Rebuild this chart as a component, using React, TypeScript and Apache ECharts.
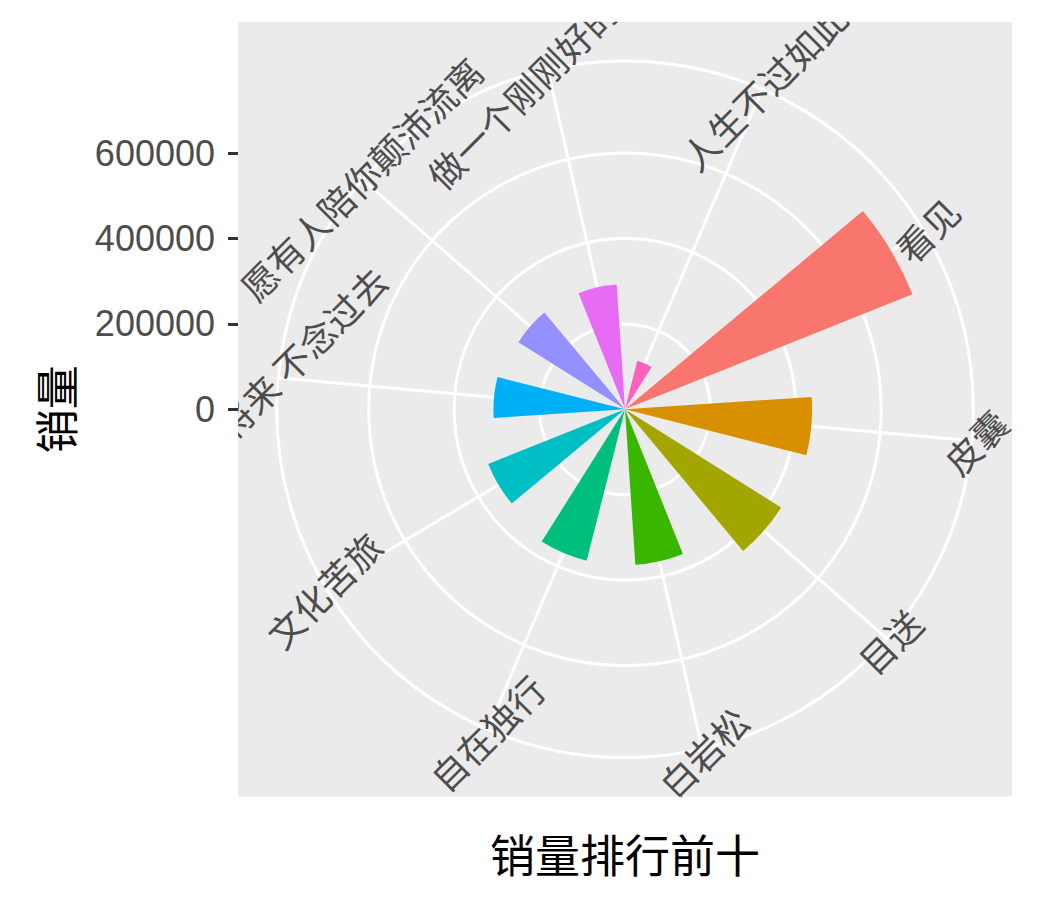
import { useEffect, useRef } from 'react';
import * as echarts from 'echarts';

// top ten books by sales, in the order they go round the circle (clockwise from the top)
const books = [
  '人生不过如此',
  '看见',
  '皮囊',
  '目送',
  '白岩松',
  '自在独行',
  '文化苦旅',
  '不畏将来 不念过去',
  '愿有人陪你颠沛流离',
  '做一个刚刚好的女子',
];
const sales = [117000, 725000, 438000, 432000, 365000, 366000, 345000, 308000, 295000, 293000];
const barColors = [
  '#FF62BC', '#F8766D', '#D89000', '#A3A500', '#39B600',
  '#00BF7D', '#00BFC4', '#00B0F6', '#9590FF', '#E76BF3',
];
const yTicks = [0, 200000, 400000, 600000];

// panel geometry (ggplot-like square panel)
const PANEL = { x: 238, y: 21.7, w: 774, h: 775 };
const CX = PANEL.x + PANEL.w / 2;
const CY = 409.3;
const BAR_W = 0.5;
const TEXT_GREY = '#4D4D4D';
const CJK = '"Noto Sans CJK SC", sans-serif';

export default function App() {
  const ref = useRef<HTMLDivElement | null>(null);

  useEffect(() => {
    document.body.style.margin = '0';
    if (!ref.current) return;
    const chart = echarts.init(ref.current, null, { renderer: 'svg' });

    const maxVal = Math.max(...sales);
    const rMax = maxVal * 1.125; // outer ring at 0.45 of panel, bars reach 0.4
    const outerPx = PANEL.w * 0.45;
    const pxPer = (PANEL.w * 0.4) / maxVal;
    const yTop = yTicks[yTicks.length - 1];
    // ring colours per radius tick: 0, 200k, 400k, 600k shown, the rest hidden
    const ringColors = ['#fff', '#fff', '#fff', '#fff', 'rgba(0,0,0,0)', 'rgba(0,0,0,0)'];

    chart.setOption({
      animation: false,
      polar: { center: [CX, CY], radius: outerPx },
      angleAxis: {
        type: 'value',
        min: 0,
        max: books.length,
        interval: 1,
        startAngle: 90 - 23.2,
        clockwise: true,
        axisLine: { show: true, lineStyle: { color: '#fff', width: 3 } },
        axisTick: { show: false },
        axisLabel: { show: false },
        splitLine: { show: true, lineStyle: { color: '#fff', width: 3 } },
      },
      radiusAxis: {
        type: 'value',
        min: 0,
        max: rMax,
        interval: 200000,
        axisLine: { show: false },
        axisTick: { show: false },
        axisLabel: { show: false },
        splitLine: { show: true, lineStyle: { color: ringColors, width: 3 } },
      },
      grid: {
        left: PANEL.x,
        width: PANEL.w,
        top: CY - yTop * pxPer,
        height: yTop * pxPer,
        containLabel: false,
      },
      xAxis: { type: 'value', show: false },
      yAxis: {
        type: 'value',
        min: 0,
        max: yTop,
        interval: 200000,
        z: 30,
        axisLine: { show: false },
        axisTick: { show: true, length: 10, lineStyle: { color: '#333333', width: 3 } },
        axisLabel: {
          color: TEXT_GREY,
          fontSize: 36,
          fontFamily: '"Liberation Sans", Arial, sans-serif',
          margin: 23,
          formatter: (v: number) => String(v),
        },
        splitLine: { show: false },
      },
      graphic: [
        {
          type: 'rect',
          z: -100,
          shape: { x: PANEL.x, y: PANEL.y, width: PANEL.w, height: PANEL.h },
          style: { fill: '#EBEBEB' },
        },
        // white masks so the rotated labels are cut at the panel edge
        { type: 'rect', z: 20, shape: { x: 0, y: 0, width: PANEL.x, height: 900 }, style: { fill: '#fff' } },
        { type: 'rect', z: 20, shape: { x: PANEL.x + PANEL.w, y: 0, width: 100, height: 900 }, style: { fill: '#fff' } },
        { type: 'rect', z: 20, shape: { x: 0, y: 0, width: 1050, height: PANEL.y }, style: { fill: '#fff' } },
        { type: 'rect', z: 20, shape: { x: 0, y: PANEL.y + PANEL.h, width: 1050, height: 200 }, style: { fill: '#fff' } },
        {
          type: 'text',
          z: 40,
          x: CX,
          y: 853,
          style: {
            text: '销量排行前十',
            fill: '#000',
            fontSize: 45,
            fontFamily: CJK,
            align: 'center',
            verticalAlign: 'middle',
          },
        },
        {
          type: 'text',
          z: 40,
          x: 55,
          y: CY,
          rotation: Math.PI / 2,
          style: {
            text: '销量',
            fill: '#000',
            fontSize: 44,
            fontFamily: CJK,
            align: 'center',
            verticalAlign: 'middle',
          },
        },
      ],
      series: [
        {
          type: 'custom',
          coordinateSystem: 'polar',
          z: 2,
          data: sales.map((v, i) => [v, i]),
          renderItem: (params: any, api: any) => {
            const cs = params.coordSys;
            const v = api.value(0);
            const p = api.value(1);
            const a = api.coord([v, p - BAR_W / 2]);
            const b = api.coord([v, p + BAR_W / 2]);
            const s = Math.atan2(a[1] - cs.cy, a[0] - cs.cx);
            let e = Math.atan2(b[1] - cs.cy, b[0] - cs.cx);
            if (e < s) e += Math.PI * 2;
            const r = Math.hypot(a[0] - cs.cx, a[1] - cs.cy);
            return {
              type: 'sector',
              shape: { cx: cs.cx, cy: cs.cy, r0: 0, r, startAngle: s, endAngle: e, clockwise: true },
              style: { fill: barColors[params.dataIndex] },
            };
          },
        },
        {
          type: 'custom',
          coordinateSystem: 'polar',
          z: 10,
          silent: true,
          data: books.map((_, i) => [rMax, i]),
          renderItem: (params: any, api: any) => {
            const cs = params.coordSys;
            const pt = api.coord([api.value(0), api.value(1)]);
            const dx = pt[0] - cs.cx;
            const dy = pt[1] - cs.cy;
            const d = Math.hypot(dx, dy) || 1;
            return {
              type: 'text',
              x: pt[0] + (dx / d) * 3,
              y: pt[1] + (dy / d) * 3,
              rotation: Math.PI / 4,
              style: {
                text: books[params.dataIndex],
                fill: TEXT_GREY,
                fontSize: 36,
                fontFamily: CJK,
                align: 'center',
                verticalAlign: 'middle',
              },
            };
          },
        },
      ],
    });

    return () => {
      chart.dispose();
    };
  }, []);

  return <div ref={ref} style={{ width: 1050, height: 900 }} />;
}
